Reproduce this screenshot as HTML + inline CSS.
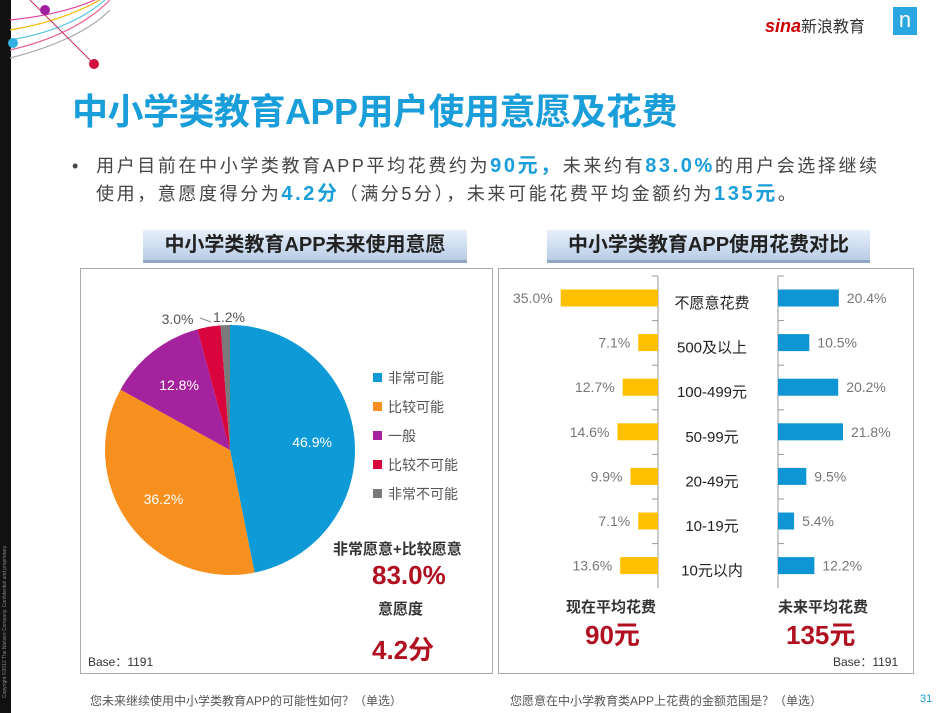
<!DOCTYPE html>
<html><head><meta charset="utf-8">
<style>
body{margin:0;width:950px;height:713px;overflow:hidden;background:#fff;font-family:"Liberation Sans","Noto Sans CJK SC",sans-serif;position:relative}
.abs{position:absolute}
.tab{position:absolute;height:30px;background:linear-gradient(#e8f0fa,#b9cde6);border-bottom:3px solid #8fa6c4;font-weight:bold;font-size:20px;color:#222;text-align:center;line-height:30px}
.panel{position:absolute;border:1px solid #aaa;background:#fff}
</style></head><body>
<div class="abs" style="left:0;top:0;width:11px;height:713px;background:#111"></div>
<div class="abs" style="left:-110px;top:580px;width:230px;transform:rotate(-90deg);font-size:5px;color:#888">Copyright ©2012 The Nielsen Company. Confidential and proprietary.</div>
<svg class="abs" style="left:0;top:0" width="110" height="75">
<g fill="none" stroke-width="1.2">
<path d="M10 20 Q60 15 95 0" stroke="#e040a0"/><path d="M10 30 Q60 22 100 0" stroke="#f5b800"/>
<path d="M10 40 Q70 30 105 0" stroke="#5ac8e8"/><path d="M10 50 Q75 35 110 0" stroke="#e86090"/>
<path d="M10 58 Q80 40 110 10" stroke="#aaa"/></g>
<line x1="30" y1="0" x2="95" y2="65" stroke="#c03060"/>
<circle cx="45" cy="10" r="5" fill="#a020a0"/><circle cx="13" cy="43" r="5" fill="#30b0e0"/><circle cx="94" cy="64" r="5" fill="#d01040"/>
</svg>
<div class="abs" style="left:765px;top:13px;font-size:18px;font-weight:bold;color:#c00;font-style:italic">sina<span style="color:#333;font-style:normal;font-weight:normal;font-size:16px">新浪教育</span></div>
<div class="abs" style="left:893px;top:7px;width:24px;height:28px;background:#2aa6e0;color:#fff;font-size:22px;text-align:center;line-height:26px">n</div>
<div class="abs" style="left:72px;top:83px;font-size:36px;font-weight:bold;color:#1a9ed9;letter-spacing:-0.5px">中小学类教育APP用户使用意愿及花费</div>
<div class="abs" style="left:72px;top:152px;font-size:18px;color:#444;line-height:28px;width:860px;letter-spacing:2.6px;white-space:nowrap">•&nbsp;&nbsp;用户目前在中小学类教育APP平均花费约为<b style="color:#1a9ed9;font-size:20px">90元，</b>未来约有<b style="color:#1a9ed9;font-size:20px">83.0%</b>的用户会选择继续<br><span style="padding-left:24px">使用，意愿度得分为<b style="color:#1a9ed9;font-size:20px">4.2分</b>（满分5分），未来可能花费平均金额约为<b style="color:#1a9ed9;font-size:20px">135元</b>。</span></div>
<div class="tab" style="left:143px;top:230px;width:324px">中小学类教育APP未来使用意愿</div>
<div class="tab" style="left:547px;top:230px;width:323px">中小学类教育APP使用花费对比</div>
<div class="panel" style="left:80px;top:268px;width:411px;height:404px"></div>
<div class="panel" style="left:498px;top:268px;width:414px;height:404px"></div>
<svg id="pie" class="abs" style="left:0;top:0" width="950" height="713"></svg>
<div class="abs" style="left:333px;top:538px;font-size:15px;font-weight:bold;color:#333">非常愿意+比较愿意</div>
<div class="abs" style="left:372px;top:560px;font-size:26px;font-weight:bold;color:#b01020">83.0%</div>
<div class="abs" style="left:378px;top:598px;font-size:15px;font-weight:bold;color:#333">意愿度</div>
<div class="abs" style="left:372px;top:630px;font-size:26px;font-weight:bold;color:#b01020">4.2分</div>
<div class="abs" style="left:88px;top:653px;font-size:12px;color:#333">Base：1191</div>
<div class="abs" style="left:833px;top:653px;font-size:12px;color:#333">Base：1191</div>
<svg id="bars" class="abs" style="left:0;top:0" width="950" height="713"></svg>
<div class="abs" style="left:566px;top:596px;font-size:15px;font-weight:bold;color:#333">现在平均花费</div>
<div class="abs" style="left:585px;top:615px;font-size:26px;font-weight:bold;color:#b01020">90元</div>
<div class="abs" style="left:778px;top:596px;font-size:15px;font-weight:bold;color:#333">未来平均花费</div>
<div class="abs" style="left:786px;top:615px;font-size:26px;font-weight:bold;color:#b01020">135元</div>
<div class="abs" style="left:90px;top:692px;font-size:12px;color:#555">您未来继续使用中小学类教育APP的可能性如何？（单选）</div>
<div class="abs" style="left:510px;top:692px;font-size:12px;color:#555">您愿意在中小学教育类APP上花费的金额范围是？（单选）</div>
<div class="abs" style="left:920px;top:693px;font-size:11px;color:#1a9ed9">31</div>
<script>
const pieLabels=["非常可能","比较可能","一般","比较不可能","非常不可能"];
const pieValues=[46.9,36.2,12.8,3.0,1.2];
const pieColors=["#0e9ad6","#f7901e","#a4229d","#d9043d","#7a7a7a"];
const barCats=["不愿意花费","500及以上","100-499元","50-99元","20-49元","10-19元","10元以内"];
const nowValues=[35.0,7.1,12.7,14.6,9.9,7.1,13.6];
const futureValues=[20.4,10.5,20.2,21.8,9.5,5.4,12.2];
const NS="http://www.w3.org/2000/svg";
function mk(p,t,a){const e=document.createElementNS(NS,t);for(const k in a)e.setAttribute(k,a[k]);p.appendChild(e);return e;}
const pie=document.getElementById('pie');
const cx=230,cy=450,R=125;
const total=pieValues.reduce((a,b)=>a+b,0);
let ang=0;
pieValues.forEach((v,i)=>{
 const a0=ang/total*2*Math.PI,a1=(ang+v)/total*2*Math.PI;ang+=v;
 const x0=cx+R*Math.sin(a0),y0=cy-R*Math.cos(a0),x1=cx+R*Math.sin(a1),y1=cy-R*Math.cos(a1);
 const p=mk(pie,'path',{d:`M${cx},${cy}L${x0},${y0}A${R},${R} 0 ${a1-a0>Math.PI?1:0} 1 ${x1},${y1}Z`,fill:pieColors[i]});
 
 
 const am=(a0+a1)/2;
 let lx,ly,fill='#fff';
 if(v>10){lx=cx+R*0.66*Math.sin(am);ly=cy-R*0.66*Math.cos(am);}
 else{fill='#555';lx=cx+(R+8)*Math.sin(am)+(i==3?-30:4);ly=cy-(R+8)*Math.cos(am);}
 const t=mk(pie,'text',{x:lx,y:ly+5,'text-anchor':'middle','font-size':14,fill:fill});
 t.textContent=v.toFixed(1)+'%';
 
 
 const ly2=378+i*29;
 const sq=mk(pie,'rect',{x:373,y:ly2-5,width:9,height:9,fill:pieColors[i]});
 
 
 const lt=mk(pie,'text',{x:388,y:ly2+5,'font-size':14,fill:'#555'});
 lt.textContent=pieLabels[i];
 
 
});
mk(pie,'line',{x1:200,y1:318,x2:211,y2:322,stroke:'#888'});
const bars=document.getElementById('bars');
const lx0=658,rx0=778,kl=2.78,kr=2.98,y0=298,dy=44.6,bh=17;
mk(bars,'rect',{x:658,y:276,width:120,height:312,fill:'#fff'});
mk(bars,'line',{x1:658,y1:276,x2:658,y2:588,stroke:'#999'});
mk(bars,'line',{x1:778,y1:276,x2:778,y2:588,stroke:'#999'});
barCats.forEach((c,i)=>{
 const y=y0+i*dy;
 const w1=nowValues[i]*kl;
 const b1=mk(bars,'rect',{x:lx0-w1,y:y-bh/2,width:w1,height:bh,fill:'#ffc000'});
 
 
 const t1=mk(bars,'text',{x:lx0-w1-8,y:y+5,'text-anchor':'end','font-size':14,fill:'#777'});
 t1.textContent=nowValues[i].toFixed(1)+'%';
 
 
 const w2=futureValues[i]*kr;
 const b2=mk(bars,'rect',{x:rx0,y:y-bh/2,width:w2,height:bh,fill:'#0e95d3'});
 
 
 const t2=mk(bars,'text',{x:rx0+w2+8,y:y+5,'font-size':14,fill:'#777'});
 t2.textContent=futureValues[i].toFixed(1)+'%';
 
 
 const ct=mk(bars,'text',{x:712,y:y+10,'text-anchor':'middle','font-size':15,fill:'#222'});
 ct.textContent=c;
 
 
 mk(bars,'line',{x1:652,y1:y-22,x2:658,y2:y-22,stroke:'#999'});
 mk(bars,'line',{x1:778,y1:y-22,x2:784,y2:y-22,stroke:'#999'});
});
</script>
</body></html>
